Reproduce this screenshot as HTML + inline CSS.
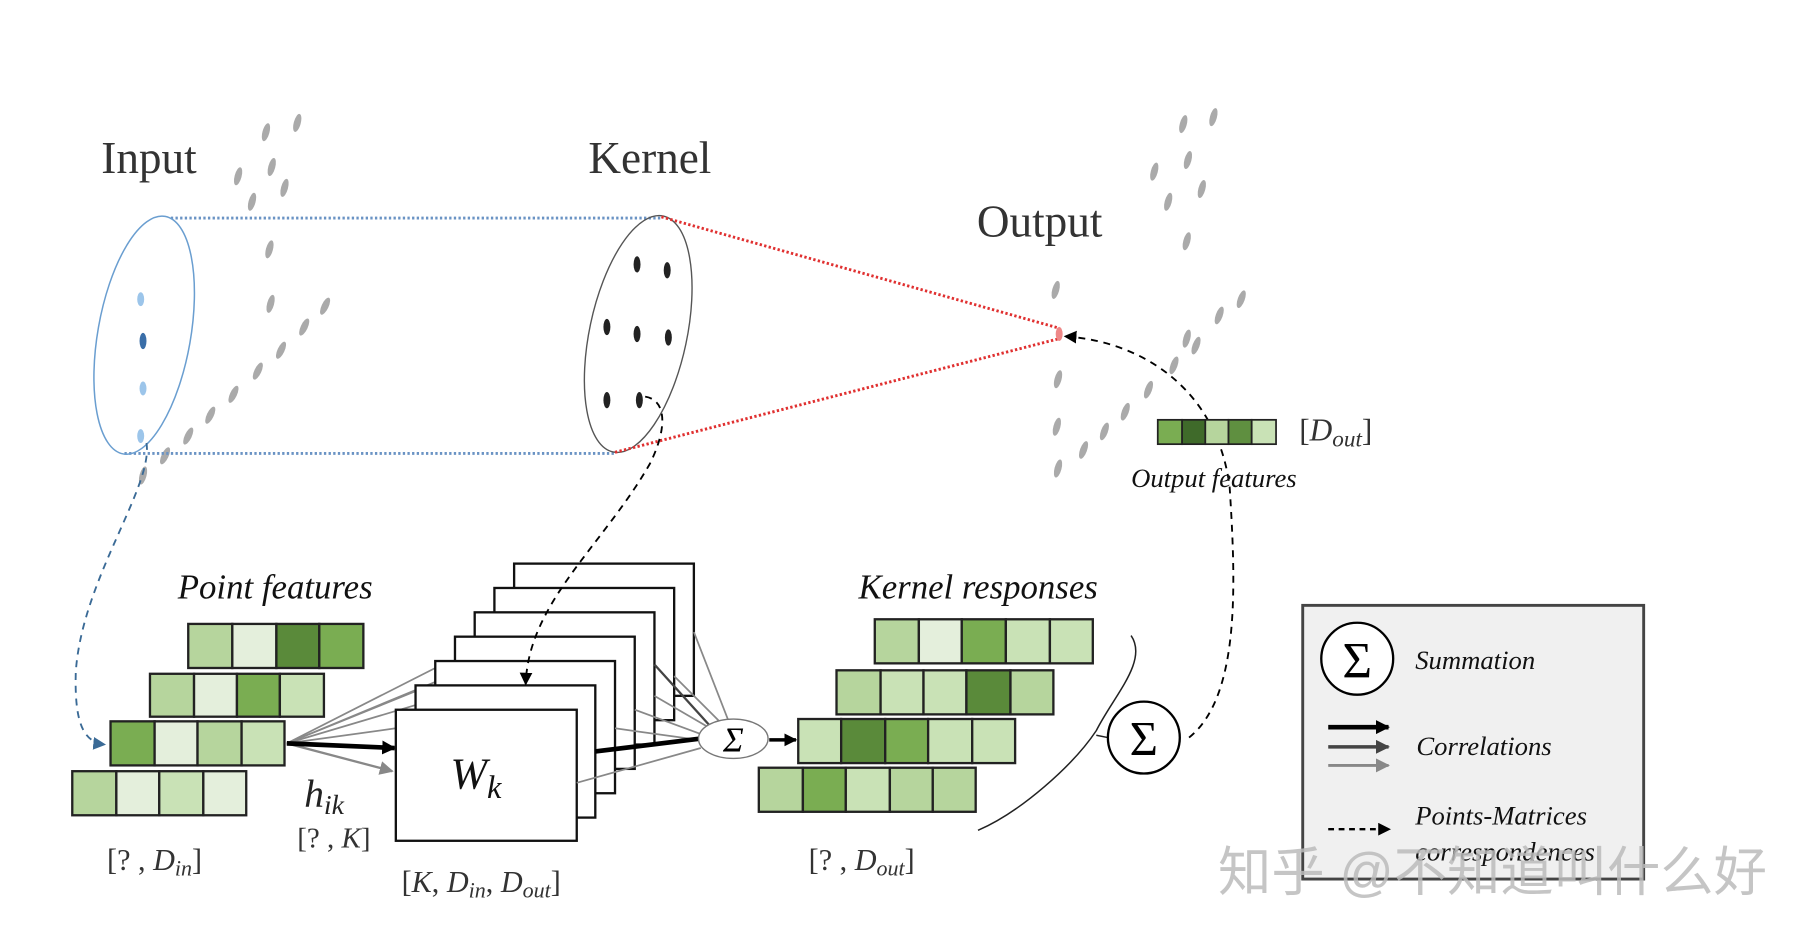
<!DOCTYPE html>
<html><head><meta charset="utf-8"><style>html,body{margin:0;padding:0;background:#fff;}svg{display:block}</style></head>
<body>
<svg width="1818" height="944" viewBox="0 0 1567 814" xmlns="http://www.w3.org/2000/svg">
<defs>
<marker id="ab" viewBox="0 0 10 10" refX="9" refY="5" markerWidth="12" markerHeight="12" markerUnits="userSpaceOnUse" orient="auto"><path d="M0,0L10,5L0,10z" fill="#000"/></marker>
<marker id="abs" viewBox="0 0 10 10" refX="9" refY="5" markerWidth="11" markerHeight="11" markerUnits="userSpaceOnUse" orient="auto"><path d="M0,0L10,5L0,10z" fill="#000"/></marker>
<marker id="abl" viewBox="0 0 10 10" refX="9" refY="5" markerWidth="11" markerHeight="11" markerUnits="userSpaceOnUse" orient="auto"><path d="M0,0L10,5L0,10z" fill="#3a6a96"/></marker>
<marker id="ag" viewBox="0 0 10 10" refX="9" refY="5" markerWidth="12" markerHeight="12" markerUnits="userSpaceOnUse" orient="auto"><path d="M0,0L10,5L0,10z" fill="#888"/></marker>
<marker id="ad" viewBox="0 0 10 10" refX="9" refY="5" markerWidth="12" markerHeight="12" markerUnits="userSpaceOnUse" orient="auto"><path d="M0,0L10,5L0,10z" fill="#444"/></marker>
</defs>
<g fill="#aaa">
<ellipse cx="256" cy="106" rx="3" ry="8" transform="rotate(15 256 106)"/>
<ellipse cx="229" cy="114" rx="3" ry="8" transform="rotate(15 229 114)"/>
<ellipse cx="234" cy="144" rx="3" ry="8" transform="rotate(15 234 144)"/>
<ellipse cx="205" cy="152" rx="3" ry="8" transform="rotate(15 205 152)"/>
<ellipse cx="245" cy="162" rx="3" ry="8" transform="rotate(15 245 162)"/>
<ellipse cx="217" cy="174" rx="3" ry="8" transform="rotate(15 217 174)"/>
<ellipse cx="232" cy="215" rx="3" ry="8" transform="rotate(15 232 215)"/>
<ellipse cx="233" cy="262" rx="3" ry="8" transform="rotate(15 233 262)"/>
<ellipse cx="280" cy="264" rx="3" ry="8" transform="rotate(25 280 264)"/>
<ellipse cx="262" cy="282" rx="3" ry="8" transform="rotate(25 262 282)"/>
<ellipse cx="242" cy="302" rx="3" ry="8" transform="rotate(25 242 302)"/>
<ellipse cx="222" cy="320" rx="3" ry="8" transform="rotate(25 222 320)"/>
<ellipse cx="201" cy="340" rx="3" ry="8" transform="rotate(25 201 340)"/>
<ellipse cx="181" cy="358" rx="3" ry="8" transform="rotate(25 181 358)"/>
<ellipse cx="162" cy="376" rx="3" ry="8" transform="rotate(25 162 376)"/>
<ellipse cx="142" cy="393" rx="3" ry="8" transform="rotate(25 142 393)"/>
<ellipse cx="123" cy="410" rx="3" ry="8" transform="rotate(15 123 410)"/>
<ellipse cx="1046" cy="101" rx="3" ry="8" transform="rotate(15 1046 101)"/>
<ellipse cx="1020" cy="107" rx="3" ry="8" transform="rotate(15 1020 107)"/>
<ellipse cx="1024" cy="138" rx="3" ry="8" transform="rotate(15 1024 138)"/>
<ellipse cx="995" cy="148" rx="3" ry="8" transform="rotate(15 995 148)"/>
<ellipse cx="1036" cy="163" rx="3" ry="8" transform="rotate(15 1036 163)"/>
<ellipse cx="1007" cy="174" rx="3" ry="8" transform="rotate(15 1007 174)"/>
<ellipse cx="1023" cy="208" rx="3" ry="8" transform="rotate(15 1023 208)"/>
<ellipse cx="910" cy="250" rx="3" ry="8" transform="rotate(15 910 250)"/>
<ellipse cx="1023" cy="292" rx="3" ry="8" transform="rotate(15 1023 292)"/>
<ellipse cx="1070" cy="258" rx="3" ry="8" transform="rotate(20 1070 258)"/>
<ellipse cx="1051" cy="272" rx="3" ry="8" transform="rotate(20 1051 272)"/>
<ellipse cx="1031" cy="298" rx="3" ry="8" transform="rotate(20 1031 298)"/>
<ellipse cx="1012" cy="315" rx="3" ry="8" transform="rotate(20 1012 315)"/>
<ellipse cx="990" cy="336" rx="3" ry="8" transform="rotate(20 990 336)"/>
<ellipse cx="970" cy="355" rx="3" ry="8" transform="rotate(20 970 355)"/>
<ellipse cx="952" cy="372" rx="3" ry="8" transform="rotate(20 952 372)"/>
<ellipse cx="934" cy="388" rx="3" ry="8" transform="rotate(20 934 388)"/>
<ellipse cx="912" cy="327" rx="3" ry="8" transform="rotate(15 912 327)"/>
<ellipse cx="911" cy="368" rx="3" ry="8" transform="rotate(15 911 368)"/>
<ellipse cx="912" cy="404" rx="3" ry="8" transform="rotate(15 912 404)"/>
</g>
<text x="87" y="149" font-family="Liberation Serif, serif" font-size="39" fill="#333">Input</text>
<text x="507" y="149" font-family="Liberation Serif, serif" font-size="39" fill="#333">Kernel</text>
<text x="842" y="204" font-family="Liberation Serif, serif" font-size="39" fill="#333">Output</text>
<line x1="147" y1="188" x2="570" y2="188" stroke="#6a93c4" stroke-width="2.5" stroke-dasharray="2,2"/>
<line x1="107" y1="391" x2="530" y2="391" stroke="#6a93c4" stroke-width="2.5" stroke-dasharray="2,2"/>
<ellipse cx="124" cy="289" rx="40" ry="104" transform="rotate(10 124 289)" fill="none" stroke="#6a9ed0" stroke-width="1.3"/>
<ellipse cx="550" cy="288" rx="42" ry="104" transform="rotate(12 550 288)" fill="none" stroke="#555" stroke-width="1.2"/>
<line x1="570" y1="187" x2="913" y2="283" stroke="#e03030" stroke-width="2.5" stroke-dasharray="2,2"/>
<line x1="530" y1="390" x2="913" y2="292" stroke="#e03030" stroke-width="2.5" stroke-dasharray="2,2"/>
<ellipse cx="913" cy="288" rx="3" ry="6" fill="#e88"/>
<g fill="#9cc5ea"><ellipse cx="121" cy="258" rx="3" ry="6"/><ellipse cx="123" cy="335" rx="3" ry="6"/><ellipse cx="121" cy="376" rx="3" ry="6"/></g>
<ellipse cx="123" cy="294" rx="3" ry="7" fill="#3a6ea8"/>
<g fill="#222">
<ellipse cx="549" cy="228" rx="3" ry="7"/><ellipse cx="575" cy="233" rx="3" ry="7"/>
<ellipse cx="523" cy="282" rx="3" ry="7"/><ellipse cx="549" cy="288" rx="3" ry="7"/><ellipse cx="576" cy="291" rx="3" ry="7"/>
<ellipse cx="523" cy="345" rx="3" ry="7"/><ellipse cx="551" cy="345" rx="3" ry="7"/>
</g>
<path d="M126,382 C132,420 70,500 65,580 C64,620 70,640 90,642" fill="none" stroke="#3a6a96" stroke-width="1.6" stroke-dasharray="6,5" marker-end="url(#abl)"/>
<path d="M1025,636 C1070,600 1065,500 1060,420 C1050,340 990,295 918,290" fill="none" stroke="#000" stroke-width="1.6" stroke-dasharray="6,5" marker-end="url(#abs)"/>
<g stroke="#222" stroke-width="2">
<rect x="162" y="538" width="38" height="38" fill="#b6d59d"/><rect x="200" y="538" width="38" height="38" fill="#e4efdc"/><rect x="238" y="538" width="37" height="38" fill="#5a8a3a"/><rect x="275" y="538" width="38" height="38" fill="#7aad52"/>
<rect x="129" y="581" width="38" height="37" fill="#b6d59d"/><rect x="167" y="581" width="37" height="37" fill="#e4efdc"/><rect x="204" y="581" width="37" height="37" fill="#7aad52"/><rect x="241" y="581" width="38" height="37" fill="#c9e2b6"/>
<rect x="95" y="622" width="38" height="38" fill="#7aad52"/><rect x="133" y="622" width="37" height="38" fill="#e4efdc"/><rect x="170" y="622" width="38" height="38" fill="#b6d59d"/><rect x="208" y="622" width="37" height="38" fill="#c9e2b6"/>
<rect x="62" y="665" width="38" height="38" fill="#b6d59d"/><rect x="100" y="665" width="37" height="38" fill="#e4efdc"/><rect x="137" y="665" width="38" height="38" fill="#c9e2b6"/><rect x="175" y="665" width="37" height="38" fill="#e4efdc"/>
</g>
<text x="153" y="516" font-family="Liberation Serif, serif" font-style="italic" font-size="30" fill="#111">Point features</text>
<g stroke="#888" stroke-width="1.5">
<line x1="247" y1="641" x2="375" y2="576"/><line x1="247" y1="641" x2="358" y2="596"/><line x1="247" y1="641" x2="375" y2="588"/><line x1="247" y1="641" x2="358" y2="608"/><line x1="247" y1="641" x2="341" y2="628"/>
</g>
<line x1="247" y1="641" x2="338" y2="665" stroke="#888" stroke-width="2" marker-end="url(#ag)"/>
<line x1="247" y1="641" x2="340" y2="645" stroke="#000" stroke-width="4" marker-end="url(#ab)"/>
<g fill="#fff" stroke="#111" stroke-width="2">
<rect x="443" y="486" width="155" height="114"/>
<rect x="426" y="507" width="155" height="114"/>
<rect x="409" y="528" width="155" height="114"/>
<rect x="392" y="549" width="155" height="114"/>
<rect x="375" y="570" width="155" height="114"/>
<rect x="358" y="591" width="155" height="114"/>
<rect x="341" y="612" width="156" height="113"/>
</g>
<path d="M556,342 C575,345 575,370 560,400 C520,470 455,520 453,590" fill="none" stroke="#000" stroke-width="1.6" stroke-dasharray="6,5" marker-end="url(#abs)"/>
<text x="388" y="680" font-family="Liberation Serif, serif" font-style="italic" font-size="38" fill="#111">W<tspan font-size="28" dy="8">k</tspan></text>
<g stroke="#888" stroke-width="1.5">
<line x1="598" y1="545" x2="628" y2="622"/><line x1="581" y1="583" x2="622" y2="624"/><line x1="564" y1="600" x2="612" y2="628"/><line x1="547" y1="612" x2="604" y2="633"/><line x1="530" y1="628" x2="602" y2="638"/><line x1="497" y1="675" x2="604" y2="645"/>
</g>
<line x1="564" y1="573" x2="612" y2="626" stroke="#444" stroke-width="2"/>
<line x1="513" y1="648" x2="603" y2="637" stroke="#000" stroke-width="4"/>
<ellipse cx="632" cy="637" rx="30" ry="17" fill="#fff" stroke="#777" stroke-width="1.2"/>
<text x="632" y="648" text-anchor="middle" font-family="Liberation Serif, serif" font-style="italic" font-size="30">Σ</text>
<line x1="663" y1="638" x2="686" y2="638" stroke="#000" stroke-width="3" marker-end="url(#abs)"/>
<text x="262" y="696" font-family="Liberation Serif, serif" font-style="italic" font-size="34" fill="#222">h<tspan font-size="24" dy="6">ik</tspan></text>
<text x="256" y="731" font-family="Liberation Serif, serif" font-size="25" fill="#333">[? , <tspan font-style="italic">K</tspan>]</text>
<text x="92" y="750" font-family="Liberation Serif, serif" font-size="26" fill="#333">[? , <tspan font-style="italic">D</tspan><tspan font-style="italic" font-size="19" dy="5">in</tspan><tspan dy="-5">]</tspan></text>
<text x="346" y="769" font-family="Liberation Serif, serif" font-size="26" fill="#333">[<tspan font-style="italic">K</tspan>, <tspan font-style="italic">D</tspan><tspan font-style="italic" font-size="19" dy="5">in</tspan><tspan dy="-5">, </tspan><tspan font-style="italic">D</tspan><tspan font-style="italic" font-size="19" dy="5">out</tspan><tspan dy="-5">]</tspan></text>
<g stroke="#222" stroke-width="2">
<rect x="754" y="534" width="38" height="38" fill="#b6d59d"/><rect x="792" y="534" width="37" height="38" fill="#e4efdc"/><rect x="829" y="534" width="38" height="38" fill="#7aad52"/><rect x="867" y="534" width="38" height="38" fill="#c9e2b6"/><rect x="905" y="534" width="37" height="38" fill="#c9e2b6"/>
<rect x="721" y="578" width="38" height="38" fill="#b6d59d"/><rect x="759" y="578" width="37" height="38" fill="#c9e2b6"/><rect x="796" y="578" width="37" height="38" fill="#c9e2b6"/><rect x="833" y="578" width="38" height="38" fill="#5a8a3a"/><rect x="871" y="578" width="37" height="38" fill="#b6d59d"/>
<rect x="688" y="620" width="37" height="38" fill="#c9e2b6"/><rect x="725" y="620" width="38" height="38" fill="#5a8a3a"/><rect x="763" y="620" width="37" height="38" fill="#7aad52"/><rect x="800" y="620" width="38" height="38" fill="#c9e2b6"/><rect x="838" y="620" width="37" height="38" fill="#c9e2b6"/>
<rect x="654" y="662" width="38" height="38" fill="#b6d59d"/><rect x="692" y="662" width="37" height="38" fill="#7aad52"/><rect x="729" y="662" width="38" height="38" fill="#c9e2b6"/><rect x="767" y="662" width="37" height="38" fill="#b6d59d"/><rect x="804" y="662" width="37" height="38" fill="#b6d59d"/>
</g>
<text x="740" y="516" font-family="Liberation Serif, serif" font-style="italic" font-size="30" fill="#111">Kernel responses</text>
<text x="697" y="750" font-family="Liberation Serif, serif" font-size="26" fill="#333">[? , <tspan font-style="italic">D</tspan><tspan font-style="italic" font-size="19" dy="5">out</tspan><tspan dy="-5">]</tspan></text>
<path d="M975,548 C990,570 960,600 945,630 C925,660 880,700 843,716" fill="none" stroke="#222" stroke-width="1.3"/>
<line x1="945" y1="634" x2="955" y2="636" stroke="#222" stroke-width="1.3"/>
<circle cx="986" cy="636" r="31" fill="#fff" stroke="#000" stroke-width="2"/>
<text x="986" y="651" text-anchor="middle" font-family="Liberation Serif, serif" font-size="42">Σ</text>
<g stroke="#222" stroke-width="1.5">
<rect x="998" y="362" width="21" height="21" fill="#7aad52"/><rect x="1019" y="362" width="20" height="21" fill="#3f6a2a"/><rect x="1039" y="362" width="20" height="21" fill="#b6d59d"/><rect x="1059" y="362" width="20" height="21" fill="#5f8f40"/><rect x="1079" y="362" width="21" height="21" fill="#c9e2b6"/>
</g>
<text x="1120" y="380" font-family="Liberation Serif, serif" font-size="27" fill="#333">[<tspan font-style="italic">D</tspan><tspan font-style="italic" font-size="20" dy="5">out</tspan><tspan dy="-5">]</tspan></text>
<text x="975" y="420" font-family="Liberation Serif, serif" font-style="italic" font-size="23" fill="#111">Output features</text>
<rect x="1123" y="522" width="294" height="236" fill="#f0f0f0" stroke="#444" stroke-width="2.5"/>
<circle cx="1170" cy="568" r="31" fill="#fff" stroke="#000" stroke-width="2"/>
<text x="1170" y="584" text-anchor="middle" font-family="Liberation Serif, serif" font-size="44">Σ</text>
<text x="1220" y="577" font-family="Liberation Serif, serif" font-style="italic" font-size="23" fill="#111">Summation</text>
<line x1="1145" y1="627" x2="1197" y2="627" stroke="#000" stroke-width="4" marker-end="url(#ab)"/>
<line x1="1145" y1="644" x2="1197" y2="644" stroke="#444" stroke-width="3" marker-end="url(#ad)"/>
<line x1="1145" y1="660" x2="1197" y2="660" stroke="#888" stroke-width="2.5" marker-end="url(#ag)"/>
<text x="1221" y="651" font-family="Liberation Serif, serif" font-style="italic" font-size="23" fill="#111">Correlations</text>
<line x1="1145" y1="715" x2="1198" y2="715" stroke="#000" stroke-width="2" stroke-dasharray="5,4" marker-end="url(#abs)"/>
<text x="1220" y="711" font-family="Liberation Serif, serif" font-style="italic" font-size="23" fill="#111">Points-Matrices</text>
<text x="1220" y="742" font-family="Liberation Serif, serif" font-style="italic" font-size="23" fill="#111">correspondences</text>
<text x="1050" y="768" font-family="Liberation Sans, Noto Sans CJK SC, sans-serif" font-size="46" fill="#bbb" fill-opacity="0.85">知乎 @不知道叫什么好</text>
</svg>
</body></html>
